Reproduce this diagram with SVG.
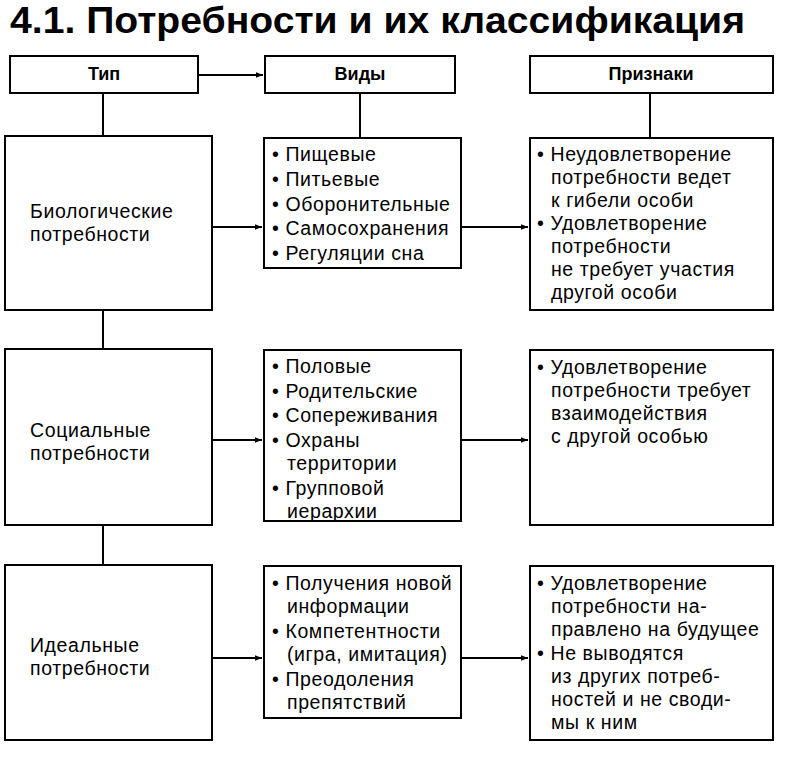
<svg xmlns="http://www.w3.org/2000/svg" width="796" height="768" viewBox="0 0 796 768">
<style>
.b{fill:#fff;stroke:#000;stroke-width:2}
.t{font-family:"Liberation Sans",Arial,sans-serif;font-size:19.5px;letter-spacing:0.6px;fill:#000}
.h{font-family:"Liberation Sans",Arial,sans-serif;font-size:18px;font-weight:bold;fill:#000}
.c line{stroke:#000;stroke-width:2}
</style>
<defs><marker id="a" viewBox="0 0 10 10" refX="10" refY="5" markerWidth="7" markerHeight="7" orient="auto" markerUnits="userSpaceOnUse"><path d="M0,1 L10,5 L0,9 Z" fill="#000"/></marker></defs>
<rect width="796" height="768" fill="#fff"/>
<text x="10" y="33" font-family="'Liberation Sans',Arial,sans-serif" font-size="36" font-weight="bold" textLength="735" lengthAdjust="spacingAndGlyphs">4.1. Потребности и их классификация</text>
<g class="c">
<line x1="198" y1="75" x2="263" y2="75" marker-end="url(#a)"/>
<line x1="103" y1="93" x2="103" y2="136"/>
<line x1="360" y1="93" x2="360" y2="138"/>
<line x1="650" y1="93" x2="650" y2="138"/>
<line x1="103" y1="310" x2="103" y2="349"/>
<line x1="103" y1="525" x2="103" y2="565"/>
<line x1="212" y1="227" x2="262" y2="227" marker-end="url(#a)"/>
<line x1="461" y1="227" x2="528" y2="227" marker-end="url(#a)"/>
<line x1="212" y1="440" x2="262" y2="440" marker-end="url(#a)"/>
<line x1="461" y1="440" x2="528" y2="440" marker-end="url(#a)"/>
<line x1="212" y1="658" x2="262" y2="658" marker-end="url(#a)"/>
<line x1="461" y1="658" x2="528" y2="658" marker-end="url(#a)"/>
</g>
<g id="h1"><rect class="b" x="10" y="56" width="188" height="37"/><text class="h" x="104" y="80" text-anchor="middle">Тип</text></g>
<g id="h2"><rect class="b" x="265" y="56" width="190" height="37"/><text class="h" x="360" y="80" text-anchor="middle">Виды</text></g>
<g id="h3"><rect class="b" x="530" y="56" width="243" height="37"/><text class="h" x="651" y="80" text-anchor="middle">Признаки</text></g>
<g id="bio"><rect class="b" x="5" y="136" width="207" height="174"/><text class="t" x="30" y="218">Биологические</text><text class="t" x="30" y="241">потребности</text></g>
<g id="bioV"><rect class="b" x="264" y="138" width="197" height="130"/>
<text class="t" x="272" y="161">• Пищевые</text><text class="t" x="272" y="186">• Питьевые</text><text class="t" x="272" y="211">• Оборонительные</text><text class="t" x="272" y="235">• Самосохранения</text><text class="t" x="272" y="260">• Регуляции сна</text></g>
<g id="bioP"><rect class="b" x="530" y="138" width="243" height="172"/>
<text class="t" x="537" y="161">• Неудовлетворение</text><text class="t" x="551" y="184">потребности ведет</text><text class="t" x="551" y="207">к гибели особи</text><text class="t" x="537" y="230">• Удовлетворение</text><text class="t" x="551" y="253">потребности</text><text class="t" x="551" y="276">не требует участия</text><text class="t" x="551" y="299">другой особи</text></g>
<g id="soc"><rect class="b" x="5" y="349" width="207" height="176"/><text class="t" x="30" y="437">Социальные</text><text class="t" x="30" y="460">потребности</text></g>
<g id="socV"><rect class="b" x="264" y="350" width="197" height="171"/>
<text class="t" x="272" y="373">• Половые</text><text class="t" x="272" y="398">• Родительские</text><text class="t" x="272" y="422">• Сопереживания</text><text class="t" x="272" y="447">• Охраны</text><text class="t" x="287" y="470">территории</text><text class="t" x="272" y="495">• Групповой</text><text class="t" x="287" y="518">иерархии</text></g>
<g id="socP"><rect class="b" x="530" y="350" width="243" height="175"/>
<text class="t" x="537" y="374">• Удовлетворение</text><text class="t" x="551" y="397">потребности требует</text><text class="t" x="551" y="420">взаимодействия</text><text class="t" x="551" y="443">с другой особью</text></g>
<g id="ide"><rect class="b" x="5" y="565" width="207" height="175"/><text class="t" x="30" y="652">Идеальные</text><text class="t" x="30" y="675">потребности</text></g>
<g id="ideV"><rect class="b" x="264" y="566" width="197" height="152"/>
<text class="t" x="272" y="590">• Получения новой</text><text class="t" x="287" y="613">информации</text><text class="t" x="272" y="638">• Компетентности</text><text class="t" x="287" y="661">(игра, имитация)</text><text class="t" x="272" y="686">• Преодоления</text><text class="t" x="287" y="709">препятствий</text></g>
<g id="ideP"><rect class="b" x="530" y="566" width="243" height="174"/>
<text class="t" x="537" y="590">• Удовлетворение</text><text class="t" x="551" y="613">потребности на-</text><text class="t" x="551" y="636">правлено на будущее</text><text class="t" x="537" y="660">• Не выводятся</text><text class="t" x="551" y="683">из других потреб-</text><text class="t" x="551" y="706">ностей и не своди-</text><text class="t" x="551" y="729">мы к ним</text></g>
</svg>
